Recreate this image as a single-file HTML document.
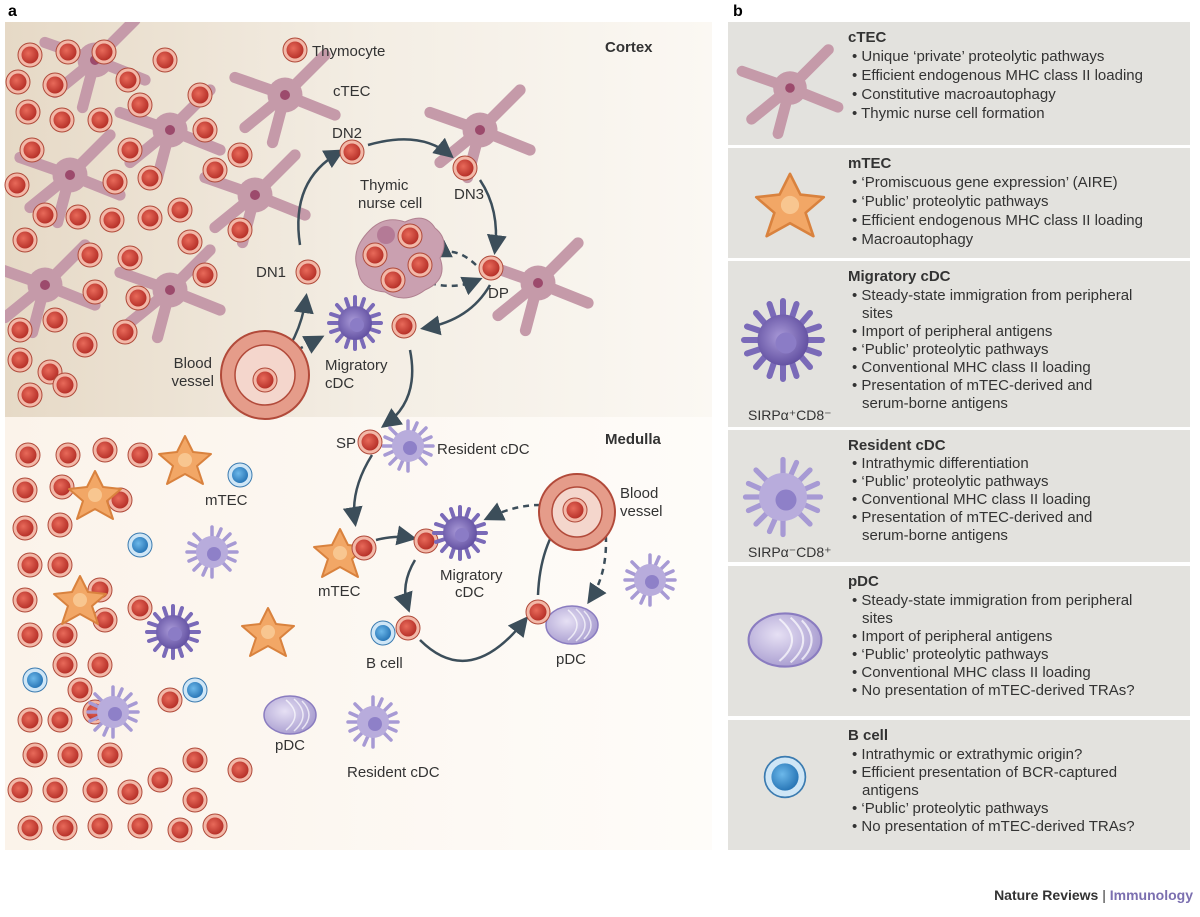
<!DOCTYPE html>
<html><head><meta charset="utf-8"><style>
body{margin:0;background:#fff;width:1200px;height:912px;overflow:hidden;font-family:"Liberation Sans",sans-serif}
svg text{font-family:"Liberation Sans",sans-serif}
</style></head><body>
<svg width="1200" height="912" viewBox="0 0 1200 912" xmlns="http://www.w3.org/2000/svg">
<defs>
<clipPath id="cc"><rect x="5" y="22" width="707" height="395"/></clipPath>
<linearGradient id="cg" x1="0" x2="1" y1="0" y2="0"><stop offset="0" stop-color="#e6d9c6"/><stop offset="0.5" stop-color="#f3ede3"/><stop offset="1" stop-color="#fbf8f3"/></linearGradient>
<linearGradient id="mg" x1="0" x2="1"><stop offset="0" stop-color="#fbf3ea"/><stop offset="1" stop-color="#fefcf9"/></linearGradient>
<radialGradient id="tg" cx="0.4" cy="0.4" r="0.6"><stop offset="0" stop-color="#e86a5a"/><stop offset="1" stop-color="#b8322a"/></radialGradient>
<radialGradient id="bg" cx="0.4" cy="0.4" r="0.6"><stop offset="0" stop-color="#6cb8ea"/><stop offset="1" stop-color="#2a78b8"/></radialGradient>
<radialGradient id="dg" cx="0.45" cy="0.45" r="0.6"><stop offset="0" stop-color="#a99ad8"/><stop offset="1" stop-color="#5e4c9e"/></radialGradient>
<radialGradient id="pg" cx="0.4" cy="0.4" r="0.7"><stop offset="0" stop-color="#e6e0f4"/><stop offset="1" stop-color="#a296cc"/></radialGradient>
<g id="t"><circle r="12" fill="#f2b8a8" stroke="#b04a3a" stroke-width="1"/><circle r="8.5" fill="url(#tg)"/></g>
<g id="b"><circle r="12" fill="#cfe6f6" stroke="#3b7bb0" stroke-width="1"/><circle r="8" fill="url(#bg)"/></g>
<g id="c0" stroke="#c59aa9" stroke-linecap="round" fill="none">
<path d="M0 0 L-40 -14 M0 0 L32 -32 M0 0 L40 16 M0 0 L-10 38 M0 0 L-32 26" stroke-width="9"/>
<circle r="14" fill="#c59aa9" stroke="none"/><circle r="4" fill="#9c4a6c" stroke="none"/></g>
<g id="c"><use href="#c0" transform="scale(1.25)"/></g>
<g id="m"><path d="M0 -24 L8 -8 L26 -6 L12 6 L18 24 L0 14 L-18 24 L-12 6 L-26 -6 L-8 -8Z" fill="#f2a766" stroke="#d9823e" stroke-width="2" stroke-linejoin="round"/><circle r="7" fill="#f8c690"/></g>
<g id="d" stroke="#7a6ab8" stroke-width="4" stroke-linecap="round">
<path d="M0 -26V-16M18 -18L12 -11M26 0H16M18 18L12 11M0 26V16M-18 18L-12 11M-26 0H-16M-18 -18L-12 -11M9 -24L6 -15M24 -9L15 -6M24 9L15 6M9 24L6 15M-9 24L-6 15M-24 9L-15 6M-24 -9L-15 -6M-9 -24L-6 -15"/>
<circle r="17" fill="url(#dg)" stroke="none"/><circle cx="2" cy="2" r="7" fill="#8b7cc6" stroke="none"/></g>
<g id="r" stroke="#a79ad4" stroke-width="3.5" stroke-linecap="round">
<path d="M0 -25V-15M18 -18L11 -11M25 0H15M18 18L11 11M0 25V15M-18 18L-11 11M-25 0H-15M-18 -18L-11 -11M9 -23L5 -14M23 -9L14 -5M23 9L14 5M-9 23L-5 14M-23 9L-14 5M-23 -9L-14 -5"/>
<circle r="16" fill="#b8acdc" stroke="none"/><circle cx="2" cy="2" r="7" fill="#8e80c8" stroke="none"/></g>
<g id="p"><ellipse rx="26" ry="19" fill="url(#pg)" stroke="#8a7cc0" stroke-width="1.5"/><path d="M-4 -15 Q14 0 -4 15 M4 -16 Q22 0 4 16 M12 -14 Q26 0 12 14" fill="none" stroke="#fff" stroke-width="1.5" opacity="0.7"/></g>
<marker id="ah" markerWidth="8" markerHeight="8" refX="6" refY="4" orient="auto"><path d="M0 0L8 4L0 8Z" fill="#3c4e5a"/></marker>
</defs>

<text x="8" y="16" font-size="16" font-weight="bold">a</text>
<text x="733" y="16" font-size="16" font-weight="bold">b</text>
<rect x="5" y="22" width="707" height="395" fill="url(#cg)"/>
<rect x="5" y="417" width="707" height="433" fill="url(#mg)"/>

<g clip-path="url(#cc)">
<use href="#c" x="95" y="60"/><use href="#c" x="285" y="95"/><use href="#c" x="170" y="130"/>
<use href="#c" x="70" y="175"/><use href="#c" x="255" y="195"/><use href="#c" x="45" y="285"/>
<use href="#c" x="170" y="290"/><use href="#c" x="480" y="130"/><use href="#c" x="538" y="283"/>
</g>

<g>
<use href="#t" x="30" y="55"/><use href="#t" x="68" y="52"/><use href="#t" x="104" y="52"/><use href="#t" x="18" y="82"/><use href="#t" x="55" y="85"/><use href="#t" x="128" y="80"/><use href="#t" x="28" y="112"/><use href="#t" x="62" y="120"/><use href="#t" x="100" y="120"/><use href="#t" x="140" y="105"/><use href="#t" x="205" y="130"/><use href="#t" x="130" y="150"/><use href="#t" x="32" y="150"/><use href="#t" x="17" y="185"/><use href="#t" x="115" y="182"/><use href="#t" x="150" y="178"/><use href="#t" x="180" y="210"/><use href="#t" x="215" y="170"/><use href="#t" x="45" y="215"/><use href="#t" x="78" y="217"/><use href="#t" x="112" y="220"/><use href="#t" x="150" y="218"/><use href="#t" x="190" y="242"/><use href="#t" x="25" y="240"/><use href="#t" x="90" y="255"/><use href="#t" x="130" y="258"/><use href="#t" x="205" y="275"/><use href="#t" x="95" y="292"/><use href="#t" x="138" y="298"/><use href="#t" x="20" y="330"/><use href="#t" x="55" y="320"/><use href="#t" x="85" y="345"/><use href="#t" x="125" y="332"/><use href="#t" x="20" y="360"/><use href="#t" x="50" y="372"/><use href="#t" x="30" y="395"/><use href="#t" x="65" y="385"/><use href="#t" x="295" y="50"/><use href="#t" x="165" y="60"/><use href="#t" x="240" y="155"/><use href="#t" x="200" y="95"/><use href="#t" x="240" y="230"/>
</g>
<text x="312" y="56" font-size="15" fill="#333">Thymocyte</text>
<text x="333" y="96" font-size="15" fill="#333">cTEC</text>
<text x="605" y="52" font-size="15" font-weight="bold" fill="#333">Cortex</text>

<g fill="none" stroke="#3c4e5a" stroke-width="2.5">
<path d="M272 370 Q300 340 306 298" marker-end="url(#ah)"/>
<path d="M300 245 Q290 180 340 152" marker-end="url(#ah)"/>
<path d="M368 145 Q420 130 450 155" marker-end="url(#ah)"/>
<path d="M480 180 Q500 210 495 250" marker-end="url(#ah)"/>
<path d="M490 285 Q470 320 425 328" marker-end="url(#ah)"/>
<path d="M410 350 Q420 400 385 425" marker-end="url(#ah)"/>
<path d="M372 455 Q350 490 355 522" marker-end="url(#ah)"/>
<path d="M376 540 Q395 535 412 538" marker-end="url(#ah)"/>
<path d="M415 560 Q400 585 408 608" marker-end="url(#ah)"/>
<path d="M420 640 Q470 690 525 620" marker-end="url(#ah)"/>
<path d="M538 595 Q540 545 565 515" marker-end="url(#ah)"/>
</g>
<g fill="none" stroke="#3c4e5a" stroke-width="2.5" stroke-dasharray="6 5">
<path d="M278 360 L320 338" marker-end="url(#ah)"/>
<path d="M476 265 Q455 245 435 255" marker-end="url(#ah)"/>
<path d="M430 283 Q455 290 478 280" marker-end="url(#ah)"/>
<path d="M540 505 Q515 505 488 518" marker-end="url(#ah)"/>
<path d="M605 525 Q610 570 590 600" marker-end="url(#ah)"/>
</g>
<path d="M370 230 Q385 215 405 222 Q425 212 435 228 Q450 240 440 258 Q448 280 425 290 Q405 305 385 292 Q360 290 358 270 Q350 250 370 230Z" fill="#caa0b0" stroke="#b08090"/>
<circle cx="386" cy="235" r="9" fill="#b47a96"/>
<use href="#t" x="410" y="236"/><use href="#t" x="375" y="255"/><use href="#t" x="420" y="265"/><use href="#t" x="393" y="280"/>
<circle cx="265" cy="375" r="44" fill="#e59c8a" stroke="#b24a3a" stroke-width="2"/>
<circle cx="265" cy="375" r="30" fill="#f4d6cc" stroke="#b24a3a" stroke-width="1.5"/>
<use href="#t" x="265" y="380"/>
<use href="#t" x="308" y="272"/><use href="#t" x="352" y="152"/><use href="#t" x="465" y="168"/><use href="#t" x="491" y="268"/><use href="#t" x="404" y="326"/>
<use href="#d" x="355" y="323"/>
<g font-size="15" fill="#333">
<text x="347" y="138" text-anchor="middle">DN2</text><text x="454" y="199">DN3</text>
<text x="360" y="190">Thymic</text><text x="358" y="208">nurse cell</text>
<text x="256" y="277">DN1</text><text x="488" y="298">DP</text>
<text x="325" y="370">Migratory</text><text x="325" y="388">cDC</text>
<text x="212" y="368" text-anchor="end">Blood</text><text x="214" y="386" text-anchor="end">vessel</text>
</g>

<g>
<use href="#t" x="28" y="455"/><use href="#t" x="68" y="455"/><use href="#t" x="105" y="450"/><use href="#t" x="25" y="490"/><use href="#t" x="62" y="487"/><use href="#t" x="25" y="528"/><use href="#t" x="60" y="525"/><use href="#t" x="140" y="455"/><use href="#t" x="120" y="500"/><use href="#t" x="30" y="565"/><use href="#t" x="25" y="600"/><use href="#t" x="30" y="635"/><use href="#t" x="65" y="635"/><use href="#t" x="105" y="620"/><use href="#t" x="140" y="608"/><use href="#t" x="65" y="665"/><use href="#t" x="100" y="665"/><use href="#t" x="80" y="690"/><use href="#t" x="95" y="712"/><use href="#t" x="30" y="720"/><use href="#t" x="60" y="720"/><use href="#t" x="35" y="755"/><use href="#t" x="70" y="755"/><use href="#t" x="110" y="755"/><use href="#t" x="170" y="700"/><use href="#t" x="160" y="780"/><use href="#t" x="195" y="760"/><use href="#t" x="195" y="800"/><use href="#t" x="240" y="770"/><use href="#t" x="20" y="790"/><use href="#t" x="55" y="790"/><use href="#t" x="95" y="790"/><use href="#t" x="130" y="792"/><use href="#t" x="30" y="828"/><use href="#t" x="65" y="828"/><use href="#t" x="100" y="826"/><use href="#t" x="140" y="826"/><use href="#t" x="180" y="830"/><use href="#t" x="215" y="826"/><use href="#t" x="100" y="590"/><use href="#t" x="60" y="565"/>
</g>
<use href="#b" x="240" y="475"/><use href="#b" x="140" y="545"/><use href="#b" x="35" y="680"/><use href="#b" x="195" y="690"/>
<use href="#m" x="185" y="460"/><use href="#m" x="95" y="495"/><use href="#m" x="80" y="600"/><use href="#m" x="268" y="632"/>
<use href="#r" x="212" y="552"/><use href="#d" x="173" y="632"/><use href="#r" x="113" y="712"/>
<use href="#p" x="290" y="715"/><use href="#r" x="373" y="722"/>
<text x="205" y="505" font-size="15" fill="#333">mTEC</text>
<text x="275" y="750" font-size="15" fill="#333">pDC</text>
<text x="347" y="777" font-size="15" fill="#333">Resident cDC</text>
<text x="605" y="444" font-size="15" font-weight="bold" fill="#333">Medulla</text>

<use href="#r" x="408" y="446"/><use href="#t" x="370" y="442"/>
<text x="336" y="448" font-size="15" fill="#333">SP</text>
<text x="437" y="454" font-size="15" fill="#333">Resident cDC</text>
<use href="#m" x="340" y="553"/><use href="#t" x="364" y="548"/>
<text x="318" y="596" font-size="15" fill="#333">mTEC</text>
<use href="#t" x="426" y="541"/><use href="#d" x="460" y="533"/>
<text x="440" y="580" font-size="15" fill="#333">Migratory</text><text x="455" y="597" font-size="15" fill="#333">cDC</text>
<use href="#b" x="383" y="633"/><use href="#t" x="408" y="628"/>
<text x="366" y="668" font-size="15" fill="#333">B cell</text>
<circle cx="577" cy="512" r="38" fill="#e59c8a" stroke="#b24a3a" stroke-width="2"/>
<circle cx="577" cy="512" r="25" fill="#f4d6cc" stroke="#b24a3a" stroke-width="1.5"/>
<use href="#t" x="575" y="510"/>
<text x="620" y="498" font-size="15" fill="#333">Blood</text><text x="620" y="516" font-size="15" fill="#333">vessel</text>
<use href="#p" x="572" y="625"/><use href="#t" x="538" y="612"/>
<text x="556" y="664" font-size="15" fill="#333">pDC</text>
<use href="#r" x="650" y="580"/>

<g fill="#e3e2de">
<rect x="728" y="22" width="462" height="123"/><rect x="728" y="148" width="462" height="110"/>
<rect x="728" y="261" width="462" height="166"/><rect x="728" y="430" width="462" height="132"/>
<rect x="728" y="566" width="462" height="150"/><rect x="728" y="720" width="462" height="130"/>
</g>
<use href="#c0" transform="translate(790 88) scale(1.2)"/>
<use href="#m" transform="translate(790 205) scale(1.3)"/>
<use href="#d" transform="translate(783 340) scale(1.5)"/>
<use href="#r" transform="translate(783 497) scale(1.5)"/>
<use href="#p" transform="translate(785 640) scale(1.4)"/>
<use href="#b" transform="translate(785 777) scale(1.7)"/>
<text x="748" y="420" font-size="14" fill="#333">SIRPα⁺CD8⁻</text>
<text x="748" y="557" font-size="14" fill="#333">SIRPα⁻CD8⁺</text>
<g font-size="15" fill="#333">
<text x="848" y="42" font-weight="bold">cTEC</text>
<text x="852" y="61">• Unique ‘private’ proteolytic pathways</text>
<text x="852" y="80">• Efficient endogenous MHC class II loading</text>
<text x="852" y="99">• Constitutive macroautophagy</text>
<text x="852" y="118">• Thymic nurse cell formation</text>
<text x="848" y="168" font-weight="bold">mTEC</text>
<text x="852" y="187">• ‘Promiscuous gene expression’ (AIRE)</text>
<text x="852" y="206">• ‘Public’ proteolytic pathways</text>
<text x="852" y="225">• Efficient endogenous MHC class II loading</text>
<text x="852" y="244">• Macroautophagy</text>
<text x="848" y="281" font-weight="bold">Migratory cDC</text>
<text x="852" y="300">• Steady-state immigration from peripheral</text>
<text x="862" y="318">sites</text>
<text x="852" y="336">• Import of peripheral antigens</text>
<text x="852" y="354">• ‘Public’ proteolytic pathways</text>
<text x="852" y="372">• Conventional MHC class II loading</text>
<text x="852" y="390">• Presentation of mTEC-derived and</text>
<text x="862" y="408">serum-borne antigens</text>
<text x="848" y="450" font-weight="bold">Resident cDC</text>
<text x="852" y="468">• Intrathymic differentiation</text>
<text x="852" y="486">• ‘Public’ proteolytic pathways</text>
<text x="852" y="504">• Conventional MHC class II loading</text>
<text x="852" y="522">• Presentation of mTEC-derived and</text>
<text x="862" y="540">serum-borne antigens</text>
<text x="848" y="586" font-weight="bold">pDC</text>
<text x="852" y="605">• Steady-state immigration from peripheral</text>
<text x="862" y="623">sites</text>
<text x="852" y="641">• Import of peripheral antigens</text>
<text x="852" y="659">• ‘Public’ proteolytic pathways</text>
<text x="852" y="677">• Conventional MHC class II loading</text>
<text x="852" y="695">• No presentation of mTEC-derived TRAs?</text>
<text x="848" y="740" font-weight="bold">B cell</text>
<text x="852" y="759">• Intrathymic or extrathymic origin?</text>
<text x="852" y="777">• Efficient presentation of BCR-captured</text>
<text x="862" y="795">antigens</text>
<text x="852" y="813">• ‘Public’ proteolytic pathways</text>
<text x="852" y="831">• No presentation of mTEC-derived TRAs?</text>
</g>
<text x="1193" y="900" font-size="14" text-anchor="end" font-weight="bold" fill="#333">Nature Reviews <tspan font-weight="normal">|</tspan> <tspan fill="#7b6fb0">Immunology</tspan></text>
</svg>
</body></html>
